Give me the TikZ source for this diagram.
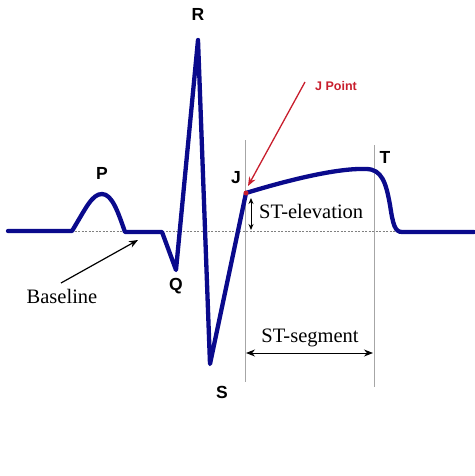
\documentclass[tikz,border=0pt]{standalone}
\usepackage{fontspec}
\setmainfont{Liberation Serif}
\newfontfamily\labelfont{Liberation Sans}
\usetikzlibrary{arrows.meta}
\definecolor{ecgblue}{RGB}{10,10,140}
\definecolor{jred}{RGB}{200,30,45}
\begin{document}
\begin{tikzpicture}[x=1pt, y=-1pt,
  wave/.style={font=\labelfont\bfseries\fontsize{17.5}{17.5}\selectfont},
  note/.style={font=\fontsize{20.5}{22}\selectfont, inner sep=0pt},
  guide/.style={gray!70, line width=0.6pt},
  trace/.style={ecgblue, line width=4.3pt, line join=round, line cap=round},
  arrow/.style={-{Stealth[length=9pt, width=7pt]}, line width=1pt}
]
  \useasboundingbox (0,0) rectangle (474,476);
  % baseline and guides
  \draw[gray, dashed, line width=0.5pt, dash pattern=on 2pt off 1.5pt] (8,231) -- (474,231);
  \draw[guide] (245,140) -- (245,382);
  \draw[guide] (374,145) -- (374,387);
  % the trace
  \draw[trace] (8,231) -- (72,231)
    .. controls (86,208) and (92,194) .. (102,194)
    .. controls (112,194) and (118,212) .. (125,232)
    -- (162,232) -- (176,270) -- (198,40) -- (210,364) -- (246,193)
    .. controls (295,178) and (340,168) .. (366,169)
    .. controls (382,169) and (386,183) .. (390,205)
    .. controls (393,225) and (395,232) .. (402,232) -- (474,232);
  \coordinate (J) at (246,193);
  \fill[jred] (J) circle (2.5pt);
  % wave labels
  \node[wave] (R) at (198,14) {R};
  \node[wave] (P) at (102,173) {P};
  \node[wave] (Q) at (176,286) {Q};
  \node[wave] (S) at (222,392) {S};
  \node[wave] (Jlab) at (236,178) {J};
  \node[wave] (T) at (385,157) {T};
  % J point
  \node[font=\labelfont\bfseries\fontsize{12.5}{12.5}\selectfont, text=jred] (jpoint) at (336,86) {J Point};
  \coordinate (jtail) at (305,82);
  \coordinate (jtip) at (248,186);
  \draw[arrow, jred, line width=1.3pt] (jtail) -- (jtip);
  % baseline label
  \node[note] (base) at (62,296) {Baseline};
  \coordinate (btail) at (61,283);
  \coordinate (btip) at (138,240);
  \draw[arrow, line width=1.2pt] (btail) -- (btip);
  % ST-elevation
  \coordinate (eltop) at (251,198);
  \coordinate (elbot) at (251,230);
  \draw[{Stealth[length=6pt, width=5pt]}-{Stealth[length=6pt, width=5pt]}, line width=0.9pt] (eltop) -- (elbot);
  \node[note, anchor=west] (elev) at (259,211) {ST-elevation};
  % ST-segment
  \coordinate (segl) at (246,353);
  \coordinate (segr) at (373,353);
  \draw[{Stealth[length=9pt, width=7pt]}-{Stealth[length=9pt, width=7pt]}, line width=1pt] (segl) -- (segr);
  \node[note] (seg) at (310,338) {ST-segment};
\end{tikzpicture}
\end{document}
